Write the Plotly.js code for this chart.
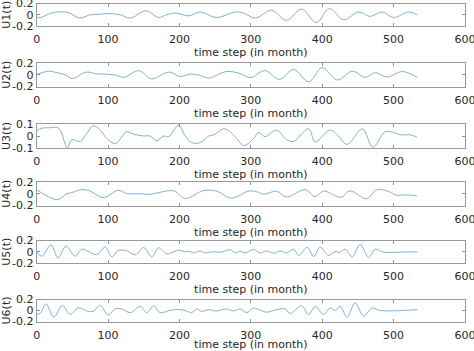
<!DOCTYPE html>
<html>
<head>
<meta charset="utf-8">
<script src="https://cdn.plot.ly/plotly-3.0.1.min.js"></script>
<style>html,body{margin:0;padding:0;background:#fff;}#chart{width:474px;height:351px;}</style>
</head>
<body>
<div id="chart"></div>
<script>
const seriesNames = ["U1(t)", "U2(t)", "U3(t)", "U4(t)", "U5(t)", "U6(t)"];
const xTickVals = [0, 100, 200, 300, 400, 500, 600];
const xTitle = "time step (in month)";

const u1x = [0,5,23,44,60,75,84,103,117,131,153,171,182,195,213,229,252,278,290,306,329,350,371,392,410,430,451,467,484,500,521,533];
const u1y = [-0.04,-0.05,0.04,0.04,-0.06,0.0,0.005,0.02,0.0,-0.06,0.07,-0.05,0.0,0.03,-0.02,0.05,-0.05,0.05,0.03,-0.06,0.08,-0.1,0.1,-0.14,0.11,-0.09,0.05,-0.03,0.05,-0.05,0.05,0.0];

const u2x = [0,16,30,40,50,69,84,98,112,122,143,161,178,187,201,215,229,241,266,285,299,320,340,360,381,400,421,442,460,474,491,512,533];
const u2y = [0,0.06,0.03,0.0,-0.065,0.045,0.015,0.01,-0.01,-0.045,0.07,-0.07,0.02,0.045,-0.03,0.01,-0.01,-0.055,0.055,0.02,-0.05,0.07,-0.08,0.09,-0.12,0.12,-0.09,0.06,-0.045,0.035,-0.04,0.055,-0.045];

const u3x = [0,7,23,27,33,40,43,49,56,61,70,79,89,98,110,119,126,136,150,159,168,178,185,199,208,217,229,241,248,262,271,280,290,304,311,320,336,350,360,381,390,411,421,435,456,471,488,500,509,523,533];
const u3y = [0.045,0.065,0.07,0.075,0.05,-0.07,-0.1,-0.03,-0.04,-0.045,0.02,0.085,0.05,-0.02,-0.065,-0.01,0.035,0.015,0.0,0.0,-0.04,0.0,-0.005,0.09,0.0,-0.055,-0.055,0.0,0.01,0.06,0.035,-0.02,-0.08,-0.02,0.03,-0.005,0.05,-0.03,-0.045,0.06,-0.05,0.05,0.01,-0.07,0.06,-0.095,0.035,0.03,0.01,0.01,-0.01];

const u4x = [0,29,42,49,63,75,91,98,114,126,145,159,173,192,208,234,252,273,297,308,318,336,350,376,390,402,426,439,462,477,495,502,519,533];
const u4y = [0.07,-0.1,0.0,0.02,0.07,0.045,-0.065,-0.05,0.06,0.005,0.0,-0.01,0.025,0.05,-0.08,0.055,0.045,-0.075,0.045,0.035,-0.01,0.045,-0.055,0.07,-0.05,0.045,-0.06,0.05,-0.085,0.07,0.03,-0.02,-0.02,-0.035];

const u5x = [0,7,20,30,41,54,63,84,96,105,114,126,138,150,161,171,182,192,199,208,213,220,229,236,248,257,271,278,285,292,304,313,322,332,341,350,360,367,379,388,397,409,418,425,432,442,453,465,474,486,495,533];
const u5y = [0.0,-0.08,0.12,-0.11,0.1,-0.08,0.045,-0.05,0.085,-0.09,0.02,0.02,-0.055,0.075,-0.09,0.07,-0.035,0.0,0.03,0.0,0.01,-0.02,0.015,-0.02,0.0,-0.01,0.035,-0.02,0.005,-0.02,0.04,-0.02,0.015,-0.025,0.015,-0.02,0.045,-0.065,0.08,-0.085,0.08,-0.065,0.005,-0.01,0.045,-0.09,0.13,-0.1,0.045,-0.01,-0.01,0.0];

const u6x = [0,5,13,24,36,47,58,72,79,89,100,110,119,131,145,154,164,173,187,201,210,217,224,231,241,252,266,276,285,294,304,313,322,336,348,355,371,381,390,402,411,418,425,435,446,458,470,481,533];
const u6y = [-0.07,-0.05,0.12,-0.12,0.09,-0.07,0.05,-0.015,-0.015,0.09,-0.08,0.03,0.03,-0.04,0.075,-0.04,0.085,-0.04,0.005,0.015,-0.01,-0.04,0.03,-0.015,0.015,-0.01,0.03,-0.01,0.03,-0.04,0.045,0.005,-0.03,0.015,0.03,-0.055,0.085,-0.075,0.075,-0.07,0.045,0.0,0.075,-0.12,0.14,-0.1,0.045,0.0,0.015];

const yRanges = [[-0.2,0.2],[-0.2,0.2],[-0.1,0.1],[-0.2,0.2],[-0.2,0.2],[-0.2,0.2]];
const yTickVals = [[-0.2,0,0.2],[-0.2,0,0.2],[-0.1,0,0.1],[-0.2,0,0.2],[-0.2,0,0.2],[-0.2,0,0.2]];
const yTickText = [["-0.2","0","0.2"],["-0.2","0","0.2"],["-0.1","0","0.1"],["-0.2","0","0.2"],["-0.2","0","0.2"],["-0.2","0","0.2"]];

const xs = [u1x,u2x,u3x,u4x,u5x,u6x];
const ys = [u1y,u2y,u3y,u4y,u5y,u6y];

// panel pixel positions (top, bottom)
const W = 474, H = 351;
const tops = [3.5, 63, 124, 182, 240.5, 299.5];
const bots = [26, 86.5, 148, 205.5, 263, 321.5];
const left = 36.7, right = 465;

const font = {family: "DejaVu Sans, sans-serif", size: 11, color: "#262626"};
const traces = [];
const layout = {
  width: W, height: H,
  margin: {l: 0, r: 0, t: 0, b: 0},
  paper_bgcolor: "#fff", plot_bgcolor: "#fff",
  showlegend: false,
  font: font
};
for (let i = 0; i < 6; i++) {
  const s = i === 0 ? "" : String(i + 1);
  traces.push({
    x: xs[i], y: ys[i], type: "scatter", mode: "lines",
    line: {color: "#5b97c6", width: 0.75, shape: "spline", smoothing: 1},
    xaxis: "x" + s, yaxis: "y" + s, hoverinfo: "skip"
  });
  layout["xaxis" + s] = {
    domain: [left / W, right / W], anchor: "y" + s,
    range: [0, 600], tickvals: xTickVals, ticktext: xTickVals.map(String),
    ticks: "inside", ticklen: 3, tickcolor: "#777", tickwidth: 0.8,
    showline: true, linecolor: "#999", linewidth: 1, mirror: "ticks",
    showgrid: false, zeroline: false, automargin: false,
    tickfont: font, ticklabelstandoff: 3, ticklabeloverflow: "allow",
    title: {text: xTitle, font: font, standoff: 2}
  };
  layout["yaxis" + s] = {
    domain: [1 - bots[i] / H, 1 - tops[i] / H], anchor: "x" + s,
    range: yRanges[i], tickvals: yTickVals[i], ticktext: yTickText[i],
    ticks: "inside", ticklen: 3, tickcolor: "#777", tickwidth: 0.8,
    showline: true, linecolor: "#999", linewidth: 1, mirror: "ticks",
    showgrid: false, zeroline: false, automargin: false,
    tickfont: font, ticklabeloverflow: "allow",
    title: {text: seriesNames[i], font: font, standoff: 1}
  };
}
Plotly.newPlot("chart", traces, layout, {staticPlot: true, displayModeBar: false});
</script>
</body>
</html>
